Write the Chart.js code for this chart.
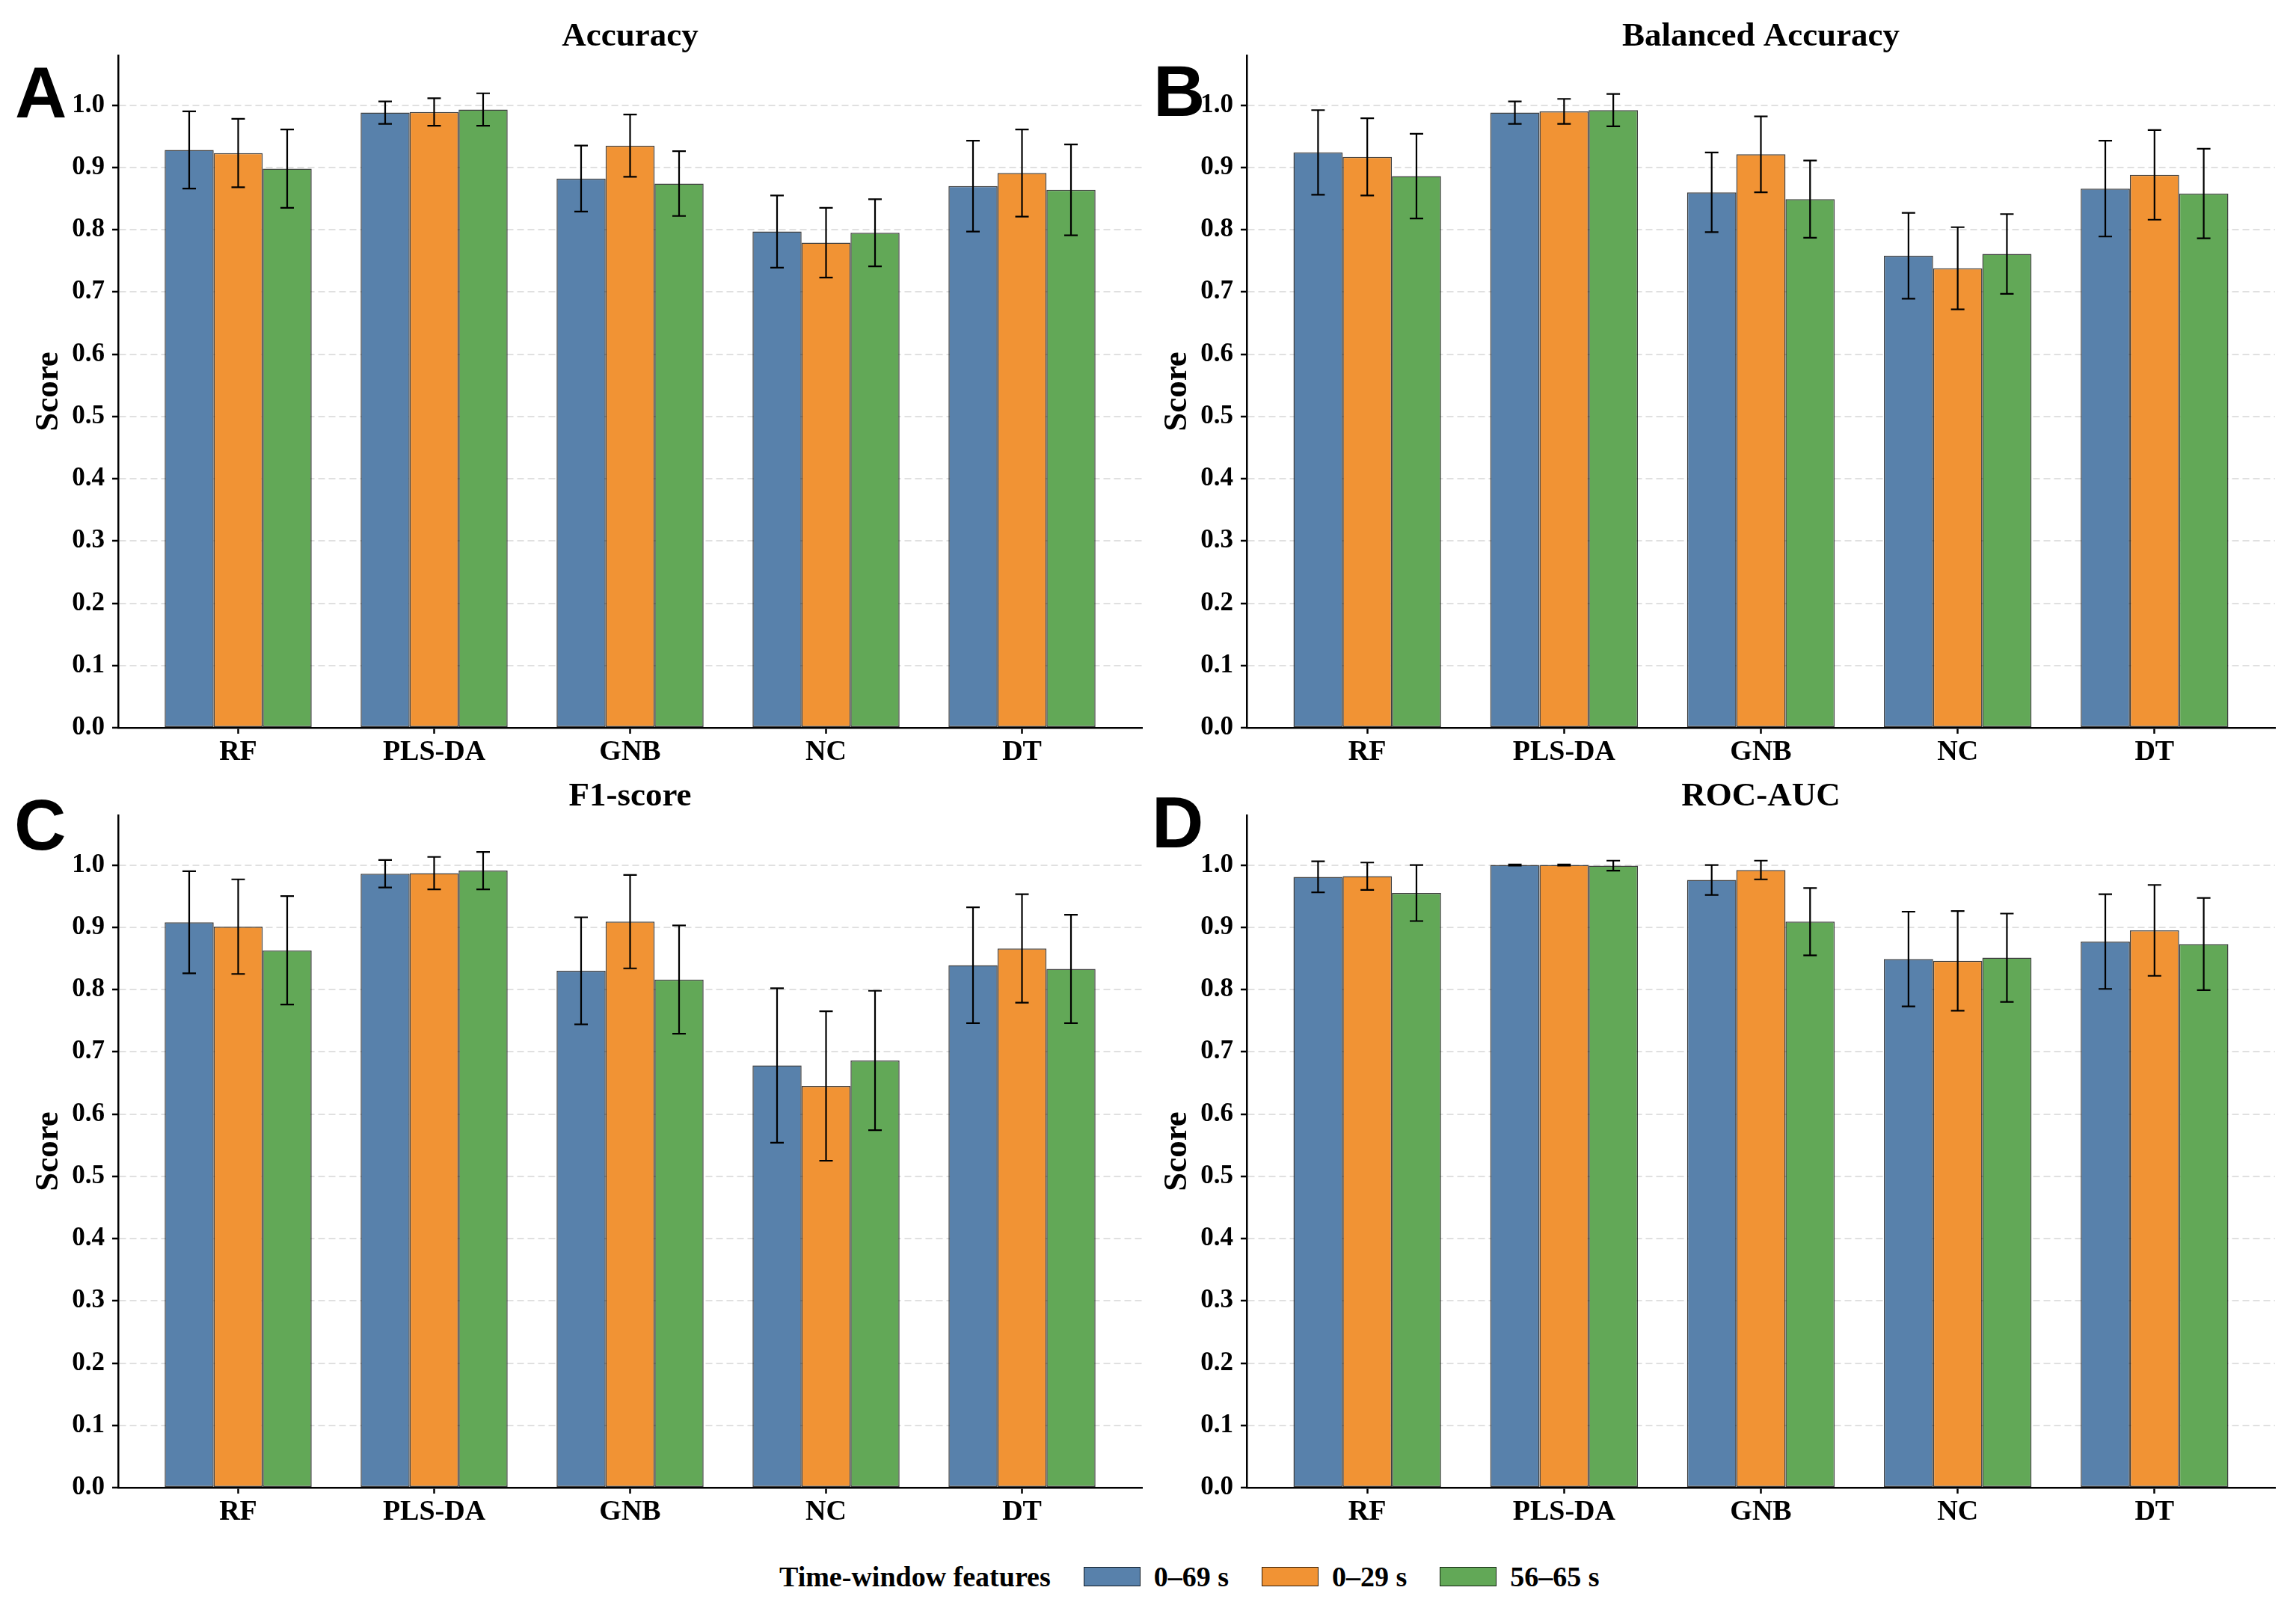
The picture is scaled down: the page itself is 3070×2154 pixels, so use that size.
<!DOCTYPE html>
<html>
<head>
<meta charset="utf-8">
<script src="https://cdn.jsdelivr.net/npm/chart.js@4.4.1/dist/chart.umd.min.js"></script>
<style>
  body { margin: 0; background: #fff; width: 3070px; height: 2154px; position: relative; overflow: hidden; }
  canvas { position: absolute; }
  #legend { position: absolute; left: 1042px; top: 2084px; height: 48px; display: flex; align-items: center;
            font: bold 38px "Liberation Serif", serif; line-height: 48px; color: #000; white-space: nowrap; }
  #legend .box { width: 76px; height: 26px; border: 1.5px solid rgba(0,0,0,0.8); box-sizing: border-box; margin-right: 18px; }
  #legend .lab { margin-right: 44px; }
</style>
</head>
<body>
<canvas id="cA" width="1545" height="1060" style="left:0;top:0"></canvas>
<canvas id="cB" width="1570" height="1060" style="left:1500px;top:0"></canvas>
<canvas id="cC" width="1545" height="1060" style="left:0;top:1016px"></canvas>
<canvas id="cD" width="1570" height="1060" style="left:1500px;top:1016px"></canvas>
<div id="legend"></div>
<script>
// categorias e janelas
const models = ["RF", "PLS-DA", "GNB", "NC", "DT"];
const windows = ["0–69 s", "0–29 s", "56–65 s"];
const colors = ["#5881ab", "#f19334", "#62a857"];
const yTicks = [0, 0.1, 0.2, 0.3, 0.4, 0.5, 0.6, 0.7, 0.8, 0.9, 1.0];

// medias e desvios (uma linha por janela)
const accuracyMean = [
  [0.928, 0.988, 0.882, 0.797, 0.870],
  [0.923, 0.989, 0.935, 0.779, 0.891],
  [0.898, 0.993, 0.874, 0.795, 0.864]
];
const accuracySd = [
  [0.062, 0.018, 0.053, 0.058, 0.073],
  [0.055, 0.022, 0.050, 0.056, 0.070],
  [0.063, 0.026, 0.052, 0.054, 0.073]
];
const balancedMean = [
  [0.924, 0.988, 0.860, 0.758, 0.866],
  [0.917, 0.990, 0.921, 0.738, 0.888],
  [0.886, 0.992, 0.849, 0.761, 0.858]
];
const balancedSd = [
  [0.068, 0.018, 0.064, 0.069, 0.077],
  [0.062, 0.020, 0.061, 0.066, 0.072],
  [0.068, 0.026, 0.062, 0.064, 0.072]
];
const f1Mean = [
  [0.908, 0.986, 0.830, 0.678, 0.839],
  [0.901, 0.987, 0.909, 0.645, 0.866],
  [0.863, 0.991, 0.816, 0.686, 0.833]
];
const f1Sd = [
  [0.082, 0.022, 0.086, 0.124, 0.093],
  [0.076, 0.026, 0.075, 0.120, 0.087],
  [0.087, 0.030, 0.087, 0.112, 0.087]
];
const rocMean = [
  [0.981, 1.000, 0.976, 0.849, 0.877],
  [0.982, 1.000, 0.992, 0.846, 0.895],
  [0.955, 0.999, 0.909, 0.851, 0.873]
];
const rocSd = [
  [0.025, 0.001, 0.024, 0.076, 0.076],
  [0.022, 0.001, 0.015, 0.080, 0.073],
  [0.045, 0.008, 0.054, 0.071, 0.074]
];

const SERIF = "'Liberation Serif', 'Times New Roman', serif";

// barras de erro
const errorBars = {
  id: "errorBars",
  afterDatasetsDraw(chart) {
    const ctx = chart.ctx;
    const y = chart.scales.y;
    ctx.save();
    ctx.strokeStyle = "#000";
    ctx.lineWidth = 2.2;
    chart.data.datasets.forEach((ds, i) => {
      chart.getDatasetMeta(i).data.forEach((bar, j) => {
        const m = ds.data[j].y, s = ds.sd[j];
        const top = y.getPixelForValue(m + s);
        const bot = y.getPixelForValue(m - s);
        ctx.beginPath();
        ctx.moveTo(bar.x, top); ctx.lineTo(bar.x, bot);
        ctx.moveTo(bar.x - 9, top); ctx.lineTo(bar.x + 9, top);
        ctx.moveTo(bar.x - 9, bot); ctx.lineTo(bar.x + 9, bot);
        ctx.stroke();
      });
    });
    ctx.restore();
  }
};

// letra do painel
const panelLetter = {
  id: "panelLetter",
  afterDraw(chart, args, opts) {
    const ctx = chart.ctx;
    ctx.save();
    ctx.font = "bold 96px 'Liberation Sans', Arial, sans-serif";
    ctx.fillStyle = "#000";
    ctx.textBaseline = "alphabetic";
    ctx.fillText(opts.text, opts.x, opts.y);
    ctx.restore();
  }
};

function criarPainel(id, titulo, means, sds, letra, axisW, padRight, letterX, letterY) {
  const canvas = document.getElementById(id);
  const bottomH = canvas.height - 973;
  new Chart(canvas, {
    type: "bar",
    data: {
      datasets: windows.map((w, k) => ({
        label: w,
        data: means[k].map((v, i) => ({ x: i, y: v })),
        sd: sds[k],
        backgroundColor: colors[k],
        borderColor: "rgba(0,0,0,0.75)",
        borderWidth: 1.5,
        borderSkipped: false,
        categoryPercentage: 0.75,
        barPercentage: 1.0
      }))
    },
    options: {
      responsive: false,
      animation: false,
      devicePixelRatio: 1,
      layout: { padding: { left: 0, right: padRight, top: 0, bottom: 0 } },
      scales: {
        x: {
          type: "linear",
          offset: false,
          min: -0.6125,
          max: 4.6125,
          afterBuildTicks: s => { s.ticks = models.map((m, i) => ({ value: i })); },
          afterFit: s => { s.height = bottomH; },
          ticks: {
            callback: v => models[v],
            font: { family: SERIF, size: 38, weight: "bold" },
            color: "#000",
            padding: 2,
            maxRotation: 0,
            autoSkip: false
          },
          grid: { offset: false, drawOnChartArea: false, drawTicks: true, tickLength: 8, tickWidth: 2.5, tickColor: "#000" },
          border: { display: true, color: "#000", width: 2.5 }
        },
        y: {
          min: 0,
          max: 1.08,
          afterBuildTicks: s => { s.ticks = yTicks.map(v => ({ value: v })); },
          afterFit: s => { s.width = axisW; },
          ticks: {
            callback: v => v.toFixed(1),
            font: { family: SERIF, size: 35, weight: "bold" },
            color: "#000",
            padding: 10
          },
          grid: { color: "#e0e0e0", lineWidth: 2, tickLength: 8, tickWidth: 2.5, tickColor: "#000", tickBorderDash: [] },
          border: { display: true, color: "#000", width: 2.5, dash: [9, 5] },
          title: {
            display: true,
            text: "Score",
            font: { family: SERIF, size: 45, weight: "bold" },
            color: "#000",
            padding: { top: axisW - 93 - 27, bottom: 0 }
          }
        }
      },
      plugins: {
        legend: { display: false },
        tooltip: { enabled: false },
        title: {
          display: true,
          text: titulo,
          fullSize: false,
          font: { family: SERIF, size: 45, weight: "bold", lineHeight: 1.111 },
          color: "#000",
          padding: { top: 24, bottom: 0 }
        },
        panelLetter: { text: letra, x: letterX, y: letterY }
      }
    },
    plugins: [errorBars, panelLetter]
  });
}

criarPainel("cA", "Accuracy", accuracyMean, accuracySd, "A", 158, 18, 20, 157);
criarPainel("cB", "Balanced Accuracy", balancedMean, balancedSd, "B", 167, 28, 42, 155);
criarPainel("cC", "F1-score", f1Mean, f1Sd, "C", 158, 18, 19, 120);
criarPainel("cD", "ROC-AUC", rocMean, rocSd, "D", 167, 28, 40, 117);

// legenda
const legenda = document.getElementById("legend");
legenda.innerHTML = '<span class="lab">Time-window features</span>' +
  windows.map((w, k) => `<span class="box" style="background:${colors[k]}"></span><span class="lab">${w}</span>`).join("");
</script>
</body>
</html>
